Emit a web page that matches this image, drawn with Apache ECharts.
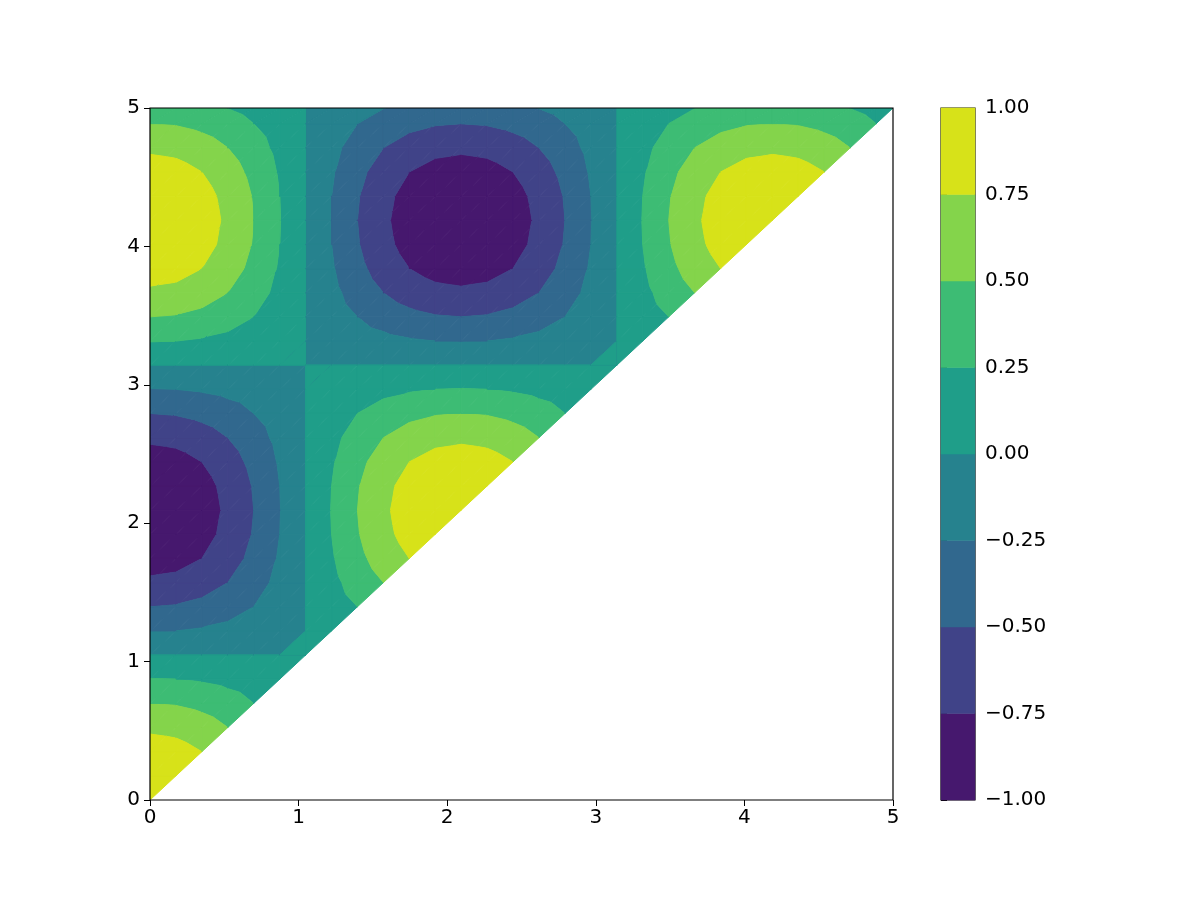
<!DOCTYPE html>
<html><head><meta charset="utf-8">
<script src="https://cdn.jsdelivr.net/npm/echarts@6/dist/echarts.min.js"></script>
<style>html,body{margin:0;background:#fff}#c{width:1200px;height:900px}</style></head>
<body><div id="c"></div>
<script>
// grid sample coordinates and the separable profile
const coords = [0,0.175,0.349,0.524,0.698,0.873,1.047,1.222,1.396,1.571,1.745,1.920,2.094,2.269,2.443,2.618,2.793,2.967,3.142,3.316,3.491,3.665,3.840,4.014,4.189,4.363,4.538,4.712,4.887,5];
const profile = [1,0.966,0.866,0.707,0.5,0.259,0,-0.259,-0.5,-0.707,-0.866,-0.966,-1,-0.966,-0.866,-0.707,-0.5,-0.259,0,0.259,0.5,0.707,0.866,0.966,1,0.966,0.866,0.707,0.5,0.347];
const levels = [-1,-0.75,-0.5,-0.25,0,0.25,0.5,0.75,1];
const levelLabels = ['−1.00','−0.75','−0.50','−0.25','0.00','0.25','0.50','0.75','1.00'];
const colors = ['#46186e','#404388','#31688e','#26828e','#1f9e89','#3dbc74','#84d44b','#d7e219'];

const n = coords.length;
function z(i,j){return profile[i]*profile[j];}
const tris = [];
for (let i=0;i<n-1;i++) for (let j=i;j<n-1;j++){
  tris.push([[i,j],[i,j+1],[i+1,j+1]]);
  if (j>i) tris.push([[i,j],[i+1,j],[i+1,j+1]]);
}
function clip(poly, lo, keepAbove){
  const out=[];
  for(let k=0;k<poly.length;k++){
    const a=poly[k], b=poly[(k+1)%poly.length];
    const ia = keepAbove ? a[2]>=lo : a[2]<=lo;
    const ib = keepAbove ? b[2]>=lo : b[2]<=lo;
    if(ia) out.push(a);
    if(ia!==ib){const t=(lo-a[2])/(b[2]-a[2]);out.push([a[0]+t*(b[0]-a[0]),a[1]+t*(b[1]-a[1]),lo]);}
  }
  return out;
}
const chart = echarts.init(document.getElementById('c'));
chart.setOption({
  animation:false,
  grid:[
    {left:150,top:108,width:743,height:692,show:true,borderColor:'#000',borderWidth:1.2,backgroundColor:'transparent',z:5},
    {left:941,top:108,width:34,height:692,show:true,borderColor:'#000',borderWidth:1.2}
  ],
  xAxis:[
    {gridIndex:0,type:'value',min:0,max:5,interval:1,axisLine:{show:false},axisTick:{length:6,lineStyle:{color:'#000'}},splitLine:{show:false},axisLabel:{color:'#000',fontSize:20,margin:8,fontFamily:'DejaVu Sans'}},
    {gridIndex:1,type:'value',min:0,max:1,show:false}
  ],
  yAxis:[
    {gridIndex:0,type:'value',min:0,max:5,interval:1,axisLine:{show:false},axisTick:{length:6,lineStyle:{color:'#000'}},splitLine:{show:false},axisLabel:{color:'#000',fontSize:20,margin:10,fontFamily:'DejaVu Sans'}},
    {gridIndex:1,type:'value',min:-1,max:1,interval:0.25,position:'right',axisLine:{show:false},axisTick:{length:6,lineStyle:{color:'#000'}},splitLine:{show:false},
     axisLabel:{color:'#000',fontSize:20,margin:10,fontFamily:'DejaVu Sans',formatter:v=>levelLabels[Math.round((v+1)/0.25)]}}
  ],
  series:[
    {type:'custom',xAxisIndex:0,yAxisIndex:0,data:tris.map((t,k)=>[k]),clip:true,
     renderItem:function(params,api){
       const t=tris[api.value(0)];
       const poly=t.map(p=>[coords[p[0]],coords[p[1]],z(p[0],p[1])]);
       const children=[];
       for(let b=0;b<colors.length;b++){
         let p=clip(poly,levels[b],true);
         if(p.length<3) continue;
         p=clip(p,levels[b+1],false);
         if(p.length<3) continue;
         children.push({type:'polygon',shape:{points:p.map(q=>api.coord([q[0],q[1]]))},style:{fill:colors[b],stroke:colors[b],lineWidth:1}});
       }
       return {type:'group',children:children};
     }},
    {type:'custom',xAxisIndex:1,yAxisIndex:1,data:colors.map((c,k)=>[k]),
     renderItem:function(params,api){
       const k=api.value(0);
       const p0=api.coord([0,levels[k]]), p1=api.coord([1,levels[k+1]]);
       return {type:'rect',shape:{x:p0[0],y:p1[1],width:p1[0]-p0[0],height:p0[1]-p1[1]},style:{fill:colors[k],stroke:colors[k],lineWidth:0.5}};
     }}
  ]
});
</script></body></html>
